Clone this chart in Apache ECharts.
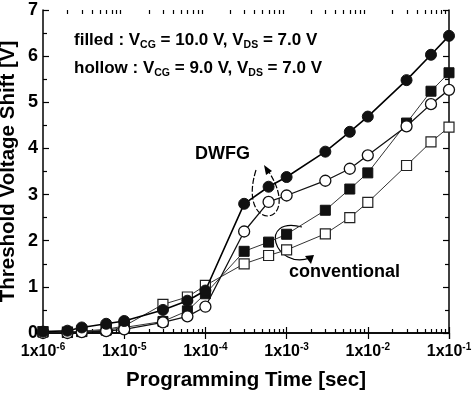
<!DOCTYPE html>
<html><head><meta charset="utf-8">
<script src="https://cdn.jsdelivr.net/npm/echarts@6/dist/echarts.min.js"></script>
<style>html,body{margin:0;padding:0;background:#fff}#c{width:474px;height:394px}</style>
</head><body><div id="c"></div>
<script>
const times = [1e-6, 2e-6, 3e-6, 6e-6, 1e-5, 3e-5, 6e-5, 1e-4, 3e-4, 6e-4, 1e-3, 3e-3, 6e-3, 1e-2, 3e-2, 6e-2, 1e-1];
const dwfgFilled = [0.03, 0.05, 0.12, 0.2, 0.26, 0.5, 0.7, 0.92, 2.8, 3.17, 3.38, 3.93, 4.36, 4.69, 5.48, 6.03, 6.44];
const dwfgHollow = [0.0, 0.0, 0.02, 0.04, 0.08, 0.23, 0.36, 0.57, 2.2, 2.84, 2.98, 3.3, 3.56, 3.85, 4.48, 4.96, 5.27];
const convFilled = [0.02, 0.01, 0.03, 0.06, 0.12, 0.25, 0.48, 0.85, 1.77, 1.97, 2.14, 2.66, 3.12, 3.47, 4.55, 5.24, 5.64];
const convHollow = [0.03, 0.02, 0.04, 0.08, 0.15, 0.62, 0.78, 1.03, 1.5, 1.68, 1.8, 2.15, 2.5, 2.83, 3.63, 4.14, 4.46];
const decadeExponents = [-6, -5, -4, -3, -2, -1];
const yTicks = [0, 1, 2, 3, 4, 5, 6, 7];

const minorTimes = [];
decadeExponents.slice(0, -1).forEach(e => { for (let m = 2; m <= 9; m++) minorTimes.push(m * Math.pow(10, e)); });

const F = 'Liberation Sans, Arial, sans-serif';
const pair = arr => times.map((t, i) => [t, arr[i]]);

const chart = echarts.init(document.getElementById('c'));
const axisLine = {show: true, lineStyle: {color: '#000', width: 1.5}};
const option = {
  backgroundColor: '#fff',
  animation: false,
  grid: {left: 43, right: 25, top: 10, bottom: 61, outerBoundsMode: 'none', containLabel: false},
  xAxis: [{
    type: 'log', logBase: 10, min: 1e-6, max: 1e-1, position: 'bottom',
    axisLine: axisLine,
    axisTick: {show: true, inside: true, length: 6, lineStyle: {color: '#000', width: 1.2}},
    splitLine: {show: false},
    axisLabel: {
      margin: 9,
      formatter: v => { const e = Math.round(Math.log10(v)); return '{a|1x10}{s|' + e + '}'; },
      rich: {
        a: {fontFamily: F, fontWeight: 'bold', fontSize: 16, color: '#000', lineHeight: 19},
        s: {fontFamily: F, fontWeight: 'bold', fontSize: 10, color: '#000', verticalAlign: 'top', lineHeight: 10, padding: [0, 0, 10, 0]}
      }
    },
    name: 'Programming Time [sec]', nameLocation: 'middle', nameGap: 37, nameMoveOverlap: false,
    nameTextStyle: {fontFamily: F, fontWeight: 'bold', fontSize: 20.5, color: '#000'}
  }, {
    type: 'log', logBase: 10, min: 1e-6, max: 1e-1, position: 'top',
    axisLine: axisLine,
    axisTick: {show: true, inside: true, length: 6, lineStyle: {color: '#000', width: 1.2}},
    axisLabel: {show: false}, splitLine: {show: false}
  }],
  yAxis: [{
    type: 'value', min: 0, max: 7, interval: 1, position: 'left',
    axisLine: axisLine,
    axisTick: {show: true, inside: true, length: 6, lineStyle: {color: '#000', width: 1.2}},
    minorTick: {show: true, splitNumber: 2, length: 4, lineStyle: {color: '#000', width: 1.2}},
    splitLine: {show: false},
    axisLabel: {margin: 5, fontFamily: F, fontWeight: 'bold', fontSize: 18, color: '#000',
      formatter: v => yTicks.includes(v) ? String(v) : ''},
    name: 'Threshold Voltage Shift [V]', nameLocation: 'middle', nameGap: 24, nameMoveOverlap: false,
    nameTextStyle: {fontFamily: F, fontWeight: 'bold', fontSize: 20.5, color: '#000'}
  }, {
    type: 'value', min: 0, max: 7, interval: 1, position: 'right',
    axisLine: axisLine,
    axisTick: {show: true, inside: true, length: 6, lineStyle: {color: '#000', width: 1.2}},
    minorTick: {show: true, splitNumber: 2, length: 4, lineStyle: {color: '#000', width: 1.2}},
    axisLabel: {show: false}, splitLine: {show: false}
  }],
  series: [
    {name: 'conv hollow', type: 'line', data: pair(convHollow), symbol: 'rect', symbolSize: 10,
      lineStyle: {color: '#333', width: 1}, itemStyle: {color: '#fff', borderColor: '#222', borderWidth: 1.2}, z: 3},
    {name: 'conv filled', type: 'line', data: pair(convFilled), symbol: 'rect', symbolSize: 10,
      lineStyle: {color: '#333', width: 1}, itemStyle: {color: '#111', borderColor: '#111', borderWidth: 1}, z: 4},
    {name: 'dwfg hollow', type: 'line', data: pair(dwfgHollow), symbol: 'circle', symbolSize: 11,
      lineStyle: {color: '#111', width: 1.3}, itemStyle: {color: '#fff', borderColor: '#111', borderWidth: 1.3}, z: 5},
    {name: 'dwfg filled', type: 'line', data: pair(dwfgFilled), symbol: 'circle', symbolSize: 11,
      lineStyle: {color: '#000', width: 1.6}, itemStyle: {color: '#111', borderColor: '#111', borderWidth: 1}, z: 6}
  ]
};
chart.setOption(option);

const annotations = [
  {type: 'text', left: 74, top: 32, style: {
    text: '{b|filled : V}{s|CG}{b| = 10.0 V, V}{s|DS}{b| = 7.0 V}',
    rich: {b: {fontFamily: F, fontWeight: 'bold', fontSize: 17, fill: '#000'},
           s: {fontFamily: F, fontWeight: 'bold', fontSize: 10.5, fill: '#000', padding: [9, 0, 0, 0]}}}},
  {type: 'text', left: 74, top: 60, style: {
    text: '{b|hollow : V}{s|CG}{b| = 9.0 V, V}{s|DS}{b| = 7.0 V}',
    rich: {b: {fontFamily: F, fontWeight: 'bold', fontSize: 17, fill: '#000'},
           s: {fontFamily: F, fontWeight: 'bold', fontSize: 10.5, fill: '#000', padding: [9, 0, 0, 0]}}}},
  {type: 'text', left: 195, top: 145, style: {text: 'DWFG', font: 'bold 18px ' + F, fill: '#000'}},
  {type: 'text', left: 289, top: 263, style: {text: 'conventional', font: 'bold 18px ' + F, fill: '#000'}},
  {type: 'bezierCurve', shape: {x1: 256, y1: 170, cpx1: 236, cpy1: 234, cpx2: 304, cpy2: 228, x2: 269, y2: 172},
    style: {stroke: '#000', lineWidth: 1.2, fill: null, lineDash: [6, 2]}},
  {type: 'polygon', shape: {points: [[264, 165], [272, 171], [266, 175]]}, style: {fill: '#000'}},
  {type: 'bezierCurve', shape: {x1: 302, y1: 227, cpx1: 258, cpy1: 216, cpx2: 274, cpy2: 270, x2: 310, y2: 258},
    style: {stroke: '#000', lineWidth: 1.2, fill: null}},
  {type: 'polygon', shape: {points: [[305, 256], [314, 255], [311, 264]]}, style: {fill: '#000'}}
];

// minor ticks of the log axis, positioned through the axis scale
const yBottom = chart.convertToPixel({yAxisIndex: 0}, 0);
const yTop = chart.convertToPixel({yAxisIndex: 0}, 7);
const ticks = [];
minorTimes.forEach(t => {
  const x = Math.round(chart.convertToPixel({xAxisIndex: 0}, t)) + 0.5;
  ticks.push({type: 'line', shape: {x1: x, y1: yBottom, x2: x, y2: yBottom - 4}, style: {stroke: '#000', lineWidth: 1.2}});
  ticks.push({type: 'line', shape: {x1: x, y1: yTop, x2: x, y2: yTop + 4}, style: {stroke: '#000', lineWidth: 1.2}});
});
chart.setOption({graphic: annotations.concat(ticks)});
</script>
</body></html>
